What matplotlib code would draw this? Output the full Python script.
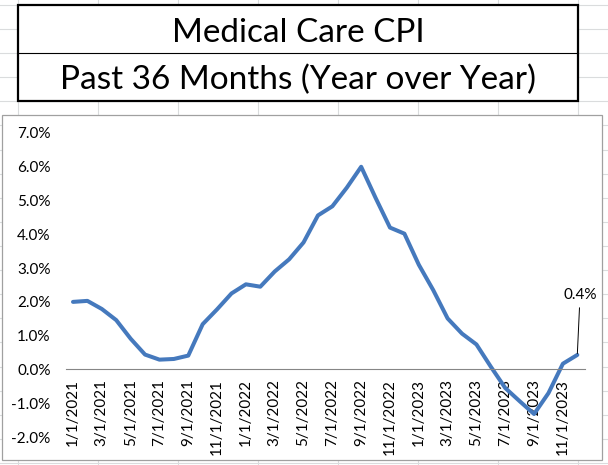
import matplotlib
matplotlib.use("Agg")
import matplotlib.pyplot as plt
from matplotlib.patches import Rectangle

# Medical care CPI, year over year change (%), Jan 2021 - Dec 2023
years = [2021, 2022, 2023]
months = [f"{m}/1/{y}" for y in years for m in range(1, 13)]
yoy = [2.00, 2.03, 1.79, 1.46, 0.91, 0.44, 0.29, 0.31, 0.41, 1.34, 1.78, 2.25,
       2.52, 2.45, 2.90, 3.26, 3.76, 4.56, 4.83, 5.38, 6.00, 5.08, 4.20, 4.02,
       3.10, 2.35, 1.51, 1.06, 0.74, 0.08, -0.55, -0.94, -1.32, -0.70, 0.17, 0.43]
y_ticks = [-2, -1, 0, 1, 2, 3, 4, 5, 6, 7]
titles = ["Medical Care CPI", "Past 36 Months (Year over Year)"]

plt.rcParams['font.family'] = ['Lato', 'DejaVu Sans']

W, H = 608, 465
fig = plt.figure(figsize=(W / 100, H / 100), dpi=100)
fig.patch.set_facecolor('white')

# spreadsheet background, in pixel coords
bg = fig.add_axes([0, 0, 1, 1])
bg.set_xlim(0, W)
bg.set_ylim(H, 0)
bg.axis('off')
grid_col = '#dadcdd'
for gx in range(18, W, 80):
    bg.axvline(gx, color=grid_col, lw=0.8)
gy = 5.0
while gy < H:
    bg.axhline(gy, color=grid_col, lw=0.8)
    gy += 24.1

# title cells
bg.add_patch(Rectangle((17.5, 5), 560.5, 96, facecolor='white',
                       edgecolor='black', lw=1.6, zorder=3))
bg.plot([17.5, 578], [53, 53], color='black', lw=0.8, zorder=4)
bg.text(298, 33, titles[0], ha='center', va='center', fontsize=24, zorder=5)
bg.text(298, 80, titles[1], ha='center', va='center', fontsize=24, zorder=5)

# chart area
bg.add_patch(Rectangle((2, 115), 600, 345, facecolor='white',
                       edgecolor='#a0a0a0', lw=0.9, zorder=3))

# plot area
ax = fig.add_axes([65.8 / W, (H - 437) / H, (584.5 - 65.8) / W, (437 - 133) / H])
ax.set_facecolor('none')
for s in ['top', 'right', 'left']:
    ax.spines[s].set_visible(False)
# x axis crosses at zero (this resets the ticks, so do it first)
ax.spines['bottom'].set_position(('data', 0))
ax.spines['bottom'].set_color('#868686')
ax.spines['bottom'].set_linewidth(0.8)

x = list(range(len(months)))
ax.plot(x, yoy, color='#4579bd', lw=2.9, solid_joinstyle='round',
        solid_capstyle='round')
ax.set_xlim(-0.5, len(months) - 0.5)
ax.set_ylim(-2, 7)

ax.set_yticks(y_ticks)
ax.set_yticklabels([f"{t:.1f}%" for t in y_ticks])
ax.set_xticks(x[::2])
ax.set_xticklabels(months[::2])
ax.tick_params(axis='y', length=0, pad=11, labelsize=11)
ax.tick_params(axis='x', length=0, pad=7, labelsize=11, labelrotation=90)

# data label on the last point
ax.annotate(f"{yoy[-1]:.1f}%", xy=(x[-1], yoy[-1]), xytext=(2, 43),
            textcoords='offset points', ha='center', va='center', fontsize=11,
            arrowprops=dict(arrowstyle='-', color='black', lw=0.7,
                            shrinkA=2, shrinkB=1),
            annotation_clip=False)

fig.savefig('out.png', dpi=100)
